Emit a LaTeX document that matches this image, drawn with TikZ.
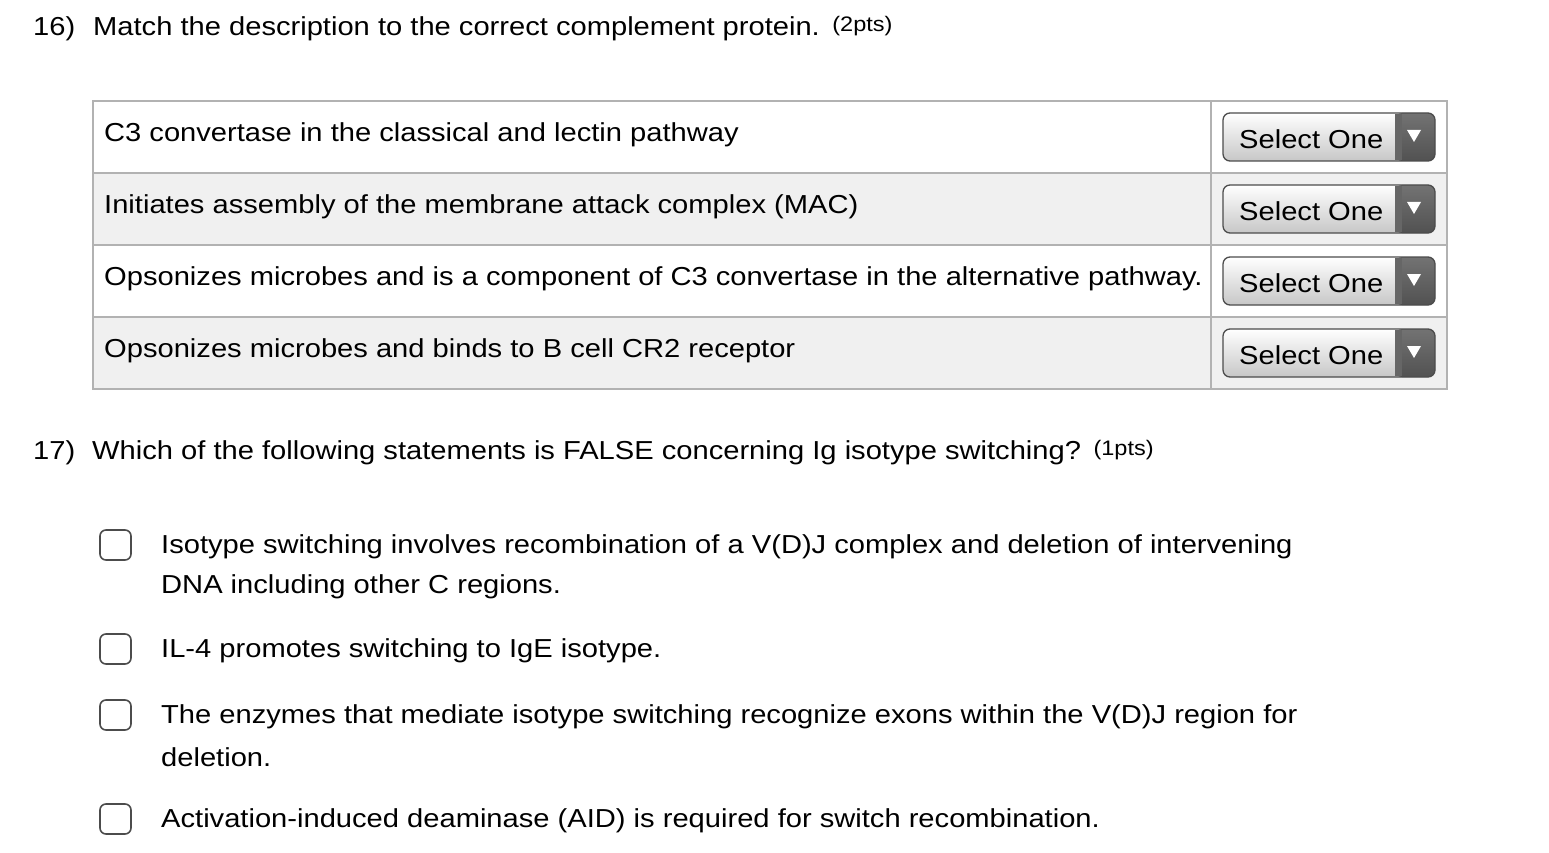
\documentclass[tikz,border=0pt]{standalone}
\usepackage{fontspec}
\setmainfont[FakeStretch=1.12]{Liberation Sans}
\begin{document}
\begin{tikzpicture}[x=1pt,y=-1pt,
  txt/.style={anchor=west,inner sep=0pt,font=\fontsize{26}{30}\selectfont},
  small/.style={anchor=west,inner sep=0pt,font=\fontsize{21}{25}\selectfont},
  cell/.style={draw=gray!60,line width=1.5pt},
  chk/.style={draw=black!70,line width=1.6pt,rounded corners=6pt,fill=white}]
\useasboundingbox (0,0) rectangle (1549,853);
\fill[white] (0,0) rectangle (1549,853);
\node[txt] (q16n) at (33,29) {16)};
\node[txt] (q16) at (93,29) {Match the description to the correct complement protein.};
\node[small] (p16) at ([xshift=12pt,yshift=3pt]q16.east) {(2pts)};
% table
\foreach \i/\f in {0/white,1/black!6,2/white,3/black!6}{
  \fill[\f] (93,101+72*\i) rectangle (1447,173+72*\i);
  \draw[cell] (93,101+72*\i) rectangle (1211,173+72*\i);
  \draw[cell] (1211,101+72*\i) rectangle (1447,173+72*\i);
  \shade[top color=white,bottom color=black!22,rounded corners=7pt] (1223,113+72*\i) rectangle (1435,161+72*\i);
  \shade[top color=black!55,bottom color=black!68,rounded corners=7pt] (1395,113+72*\i) rectangle (1435,161+72*\i);
  \fill[black!60] (1395,114+72*\i) rectangle (1402,160+72*\i);
  \draw[black!70,line width=1.3pt,rounded corners=7pt] (1223,113+72*\i) rectangle (1435,161+72*\i);
  \node[txt] (s\i) at (1239,139+72*\i) {Select One};
  \fill[white] (1407,130+72*\i) -- (1421,130+72*\i) -- (1414,142+72*\i) -- cycle;
}
\node[txt] (r1) at (104,135) {C3 convertase in the classical and lectin pathway};
\node[txt] (r2) at (104,207) {Initiates assembly of the membrane attack complex (MAC)};
\node[txt] (r3) at (104,279) {Opsonizes microbes and is a component of C3 convertase in the alternative pathway.};
\node[txt] (r4) at (104,351) {Opsonizes microbes and binds to B cell CR2 receptor};
% Q17
\node[txt] (q17n) at (33,453) {17)};
\node[txt] (q17) at (92,453) {Which of the following statements is FALSE concerning Ig isotype switching?};
\node[small] (p17) at ([xshift=12pt,yshift=3pt]q17.east) {(1pts)};
\foreach \y/\n in {545/a,649/b,715/c,819/d}{
  \draw[chk] (100,\y-15) rectangle (131,\y+15);
}
\node[txt] (oa1) at (161,547) {Isotype switching involves recombination of a V(D)J complex and deletion of intervening};
\node[txt] (oa2) at (161,587) {DNA including other C regions.};
\node[txt] (ob) at (161,651) {IL-4 promotes switching to IgE isotype.};
\node[txt] (oc1) at (161,717) {The enzymes that mediate isotype switching recognize exons within the V(D)J region for};
\node[txt] (oc2) at (161,757) {deletion.};
\node[txt] (od) at (161,821) {Activation-induced deaminase (AID) is required for switch recombination.};
\end{tikzpicture}
\end{document}
